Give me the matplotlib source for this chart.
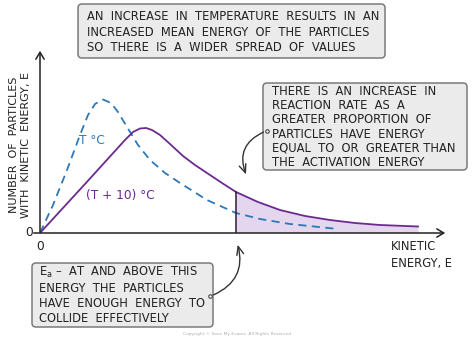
import matplotlib.pyplot as plt
from matplotlib.patches import FancyBboxPatch

# Energy / particle-count values (arbitrary units)
energy_t = [0, 13, 27, 40, 48, 55, 63, 71, 78, 87, 98, 110, 125, 140, 167, 196, 220, 250, 298]
count_t = [0, 28, 63, 98, 118, 129, 133.5, 130, 121, 106, 88, 73, 60, 50, 33, 20, 14, 9, 4]

energy_t10 = [0, 45, 85, 93, 100, 106, 112, 120, 130, 143, 155, 167, 182, 196, 218, 240, 265, 290, 315, 340, 378]
count_t10 = [0, 49, 93, 101, 104.5, 105, 103, 98, 89, 77, 68, 60, 50, 41, 31, 23, 17, 13, 10, 8, 6.5]

EA = 196
X_MAX = 408
Y_MAX = 185

BLUE = "#2f78b7"
PURPLE = "#6b2a8f"
SHADE = "#e3d6ee"
BOX_FILL = "#ebebeb"
BOX_EDGE = "#7a7a7a"
TEXT = "#222222"
FONT = 8.3

top_text = ("AN  INCREASE  IN  TEMPERATURE  RESULTS  IN  AN\n"
            "INCREASED  MEAN  ENERGY  OF  THE  PARTICLES\n"
            "SO  THERE  IS  A  WIDER  SPREAD  OF  VALUES")
right_text = ("THERE  IS  AN  INCREASE  IN\n"
              "REACTION  RATE  AS  A\n"
              "GREATER  PROPORTION  OF\n"
              "PARTICLES  HAVE  ENERGY\n"
              "EQUAL  TO  OR  GREATER THAN\n"
              "THE  ACTIVATION  ENERGY")
bottom_text = ("E$_\\mathregular{a}$ \u2013  AT  AND  ABOVE  THIS\n"
               "ENERGY  THE  PARTICLES\n"
               "HAVE  ENOUGH  ENERGY  TO\n"
               "COLLIDE  EFFECTIVELY")

W, H = 474, 339
fig = plt.figure(figsize=(W / 100, H / 100), dpi=100)

# main plot axes: origin at pixel (40, 233)
ax = fig.add_axes([40 / W, (H - 233) / H, X_MAX / W, Y_MAX / H])
ax.set_xlim(0, X_MAX)
ax.set_ylim(0, Y_MAX)
ax.axis("off")

ea_idx = energy_t10.index(EA)
ax.fill_between(energy_t10[ea_idx:], count_t10[ea_idx:], 0, color=SHADE, lw=0, zorder=1)
ax.plot(energy_t, count_t, color=BLUE, lw=1.3, ls=(0, (4.5, 3)), zorder=3)
ax.plot(energy_t10, count_t10, color=PURPLE, lw=1.3, zorder=3)
ax.plot([EA, EA], [-3, count_t10[ea_idx]], color="#2a1a3a", lw=1.1, zorder=4)

arrow_kw = dict(arrowstyle="->,head_length=0.5,head_width=0.3", color=TEXT, lw=1.1)
ax.annotate("", xy=(X_MAX, 0), xytext=(-2, 0), arrowprops=arrow_kw,
            annotation_clip=False, zorder=5)
ax.annotate("", xy=(0, Y_MAX), xytext=(0, -2), arrowprops=arrow_kw,
            annotation_clip=False, zorder=5)
ax.plot([-6, 0], [0, 0], color=TEXT, lw=1.1, clip_on=False)

# overlay in pixel coordinates for text and boxes
ov = fig.add_axes([0, 0, 1, 1])
ov.set_xlim(0, W)
ov.set_ylim(H, 0)
ov.axis("off")
ov.patch.set_alpha(0)


def box(x0, y0, x1, y1):
    ov.add_patch(FancyBboxPatch((x0, y0), x1 - x0, y1 - y0,
                                boxstyle="round,pad=0,rounding_size=4",
                                fc=BOX_FILL, ec=BOX_EDGE, lw=1.1))


box(78, 4, 385, 58)
ov.text(87, 32, top_text, fontsize=FONT, va="center", ha="left",
        linespacing=1.22, color=TEXT)

box(263, 83, 467, 170)
ov.text(272, 127, right_text, fontsize=FONT, va="center", ha="left",
        linespacing=1.13, color=TEXT)

box(32, 263, 213, 327)
ov.text(39, 295, bottom_text, fontsize=FONT, va="center", ha="left",
        linespacing=1.2, color=TEXT)

ov.text(20, 145, "NUMBER  OF  PARTICLES\nWITH  KINETIC  ENERGY, E", rotation=90,
        fontsize=8, ha="center", va="center", linespacing=1.3, color=TEXT)
ov.text(29, 233, "0", fontsize=FONT + 0.5, ha="center", va="center", color=TEXT)
ov.text(40, 247, "0", fontsize=FONT + 0.5, ha="center", va="center", color=TEXT)
ov.text(391, 255, "KINETIC\nENERGY, E", fontsize=FONT, ha="left", va="center",
        linespacing=1.3, color=TEXT)
ov.text(79, 140, "T \u00b0C", fontsize=FONT + 0.5, ha="left", va="center", color=BLUE)
ov.text(86, 195, "(T + 10) \u00b0C", fontsize=FONT + 0.5, ha="left", va="center", color=PURPLE)

ov.text(237, 334, "Copyright \u00a9 Save My Exams. All Rights Reserved",
        fontsize=3.2, ha="center", va="center", color="#b0b0b0")

# curved pointer arrows
ov.plot([210], [296], marker="o", ms=2.5, mfc="white", mec="#444444", mew=0.8)
ov.annotate("", xy=(237, 242), xytext=(211, 296),
            arrowprops=dict(arrowstyle="->,head_length=0.6,head_width=0.25",
                            color="#333333", lw=1.0,
                            connectionstyle="arc3,rad=0.45"))
ov.plot([267], [131], marker="o", ms=2.5, mfc="white", mec="#444444", mew=0.8)
ov.annotate("", xy=(247, 177), xytext=(266, 131),
            arrowprops=dict(arrowstyle="->,head_length=0.6,head_width=0.25",
                            color="#333333", lw=1.0,
                            connectionstyle="arc3,rad=0.5"))

fig.savefig("out.png", dpi=100)
